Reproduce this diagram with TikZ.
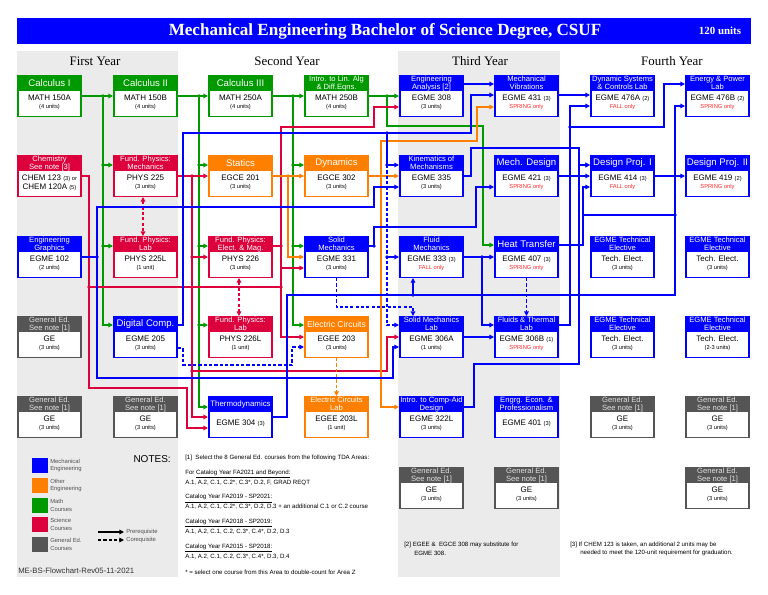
\documentclass[tikz,border=0pt]{standalone}
\usepackage{fontspec}
\setmainfont{Liberation Sans}
\newfontfamily\serifLS{Liberation Serif}
\usetikzlibrary{arrows.meta}
\definecolor{meblue}{RGB}{0,0,255}
\definecolor{oeorange}{RGB}{255,128,0}
\definecolor{mathgreen}{RGB}{0,153,0}
\definecolor{scired}{RGB}{220,0,60}
\definecolor{gegray}{RGB}{85,85,85}
\definecolor{gelight}{RGB}{225,225,225}
\definecolor{bggray}{RGB}{235,235,235}
\definecolor{termred}{RGB}{255,40,40}
\definecolor{legtxt}{RGB}{80,80,80}
\newcommand\tbig{\fontsize{7.2}{8}\selectfont}
\newcommand\tsmall{\fontsize{5.7}{5.9}\selectfont}
\newcommand\telec{\fontsize{6.4}{7}\selectfont}
\newcommand\tthermo{\fontsize{5.9}{6.5}\selectfont}
\newcommand\sm[1]{{\fontsize{4.3}{5}\selectfont #1}}
\newcommand\trm[1]{\textcolor{termred}{#1}}
\tikzset{
 cbox/.style={anchor=north west, minimum width=48.75pt, minimum height=31.5pt, inner sep=0pt, outer sep=0pt},
 ttl/.style={text=white, align=center, inner sep=0pt},
 ccode/.style={font=\fontsize{6}{7}\selectfont, inner sep=0pt},
 cunit/.style={font=\fontsize{4.3}{5}\selectfont, inner sep=0pt},
 con/.style={line width=0.8pt, -{Triangle[length=3.4pt,width=3.4pt]}},
 coreq/.style={con, dash pattern=on 2.4pt off 1.6pt},
 bicoreq/.style={line width=0.8pt, dash pattern=on 2.4pt off 1.6pt, {Triangle[length=3.4pt,width=3.4pt]}-{Triangle[length=3.4pt,width=3.4pt]}},
 wire/.style={line width=0.8pt},
 legtext/.style={font=\fontsize{4.4}{5.6}\selectfont, text=legtxt, align=left, inner sep=0pt, anchor=west},
 notetext/.style={font=\fontsize{4.6}{5.6}\selectfont, inner sep=0pt, anchor=west},
}
% name, x, y, color, titlefont, title, code, sub
\newcommand\course[8]{%
  \node[cbox, fill=#4] (#1) at (#2,#3) {};
  \fill[white] (#2+2,#3+16) rectangle (#2+63,#3+40.5);
  \node[ttl, font=#5] (#1-t) at (#2+32.5,#3+8.2) {#6};
  \node[ccode] (#1-c) at (#2+32.5,#3+22.8) {#7};
  \node[cunit] (#1-u) at (#2+32.5,#3+32) {#8};
}
\newcommand\coursei[7]{%
  \node[cbox, fill=#4] (#1) at (#2,#3) {};
  \fill[white] (#2+2,#3+16) rectangle (#2+63,#3+40.5);
  \node[ttl, font=#5] (#1-t) at (#2+32.5,#3+8.2) {#6};
  \node[ccode] (#1-c) at (#2+32.5,#3+27.5) {#7};
}
\newcommand\gebox[3]{%
  \node[cbox, fill=gegray] (#1) at (#2,#3) {};
  \fill[white] (#2+2,#3+16) rectangle (#2+63,#3+40.5);
  \node[ttl, text=gelight, font=\tsmall] (#1-t) at (#2+32.5,#3+8.2) {General Ed.\\See note [1]};
  \node[ccode] (#1-c) at (#2+32.5,#3+22.8) {GE};
  \node[cunit] (#1-u) at (#2+32.5,#3+32) {(3 units)};
}
\newcommand\jd[3]{\fill[#1] (#2,#3) circle[radius=1.4pt];}
\begin{document}
\begin{tikzpicture}[x=0.75pt,y=-0.75pt]
\useasboundingbox (0,0) rectangle (768,594);
\fill[white] (0,0) rectangle (768,594);
% backgrounds
\fill[bggray] (17,51) rectangle (178,577);
\fill[bggray] (398,51) rectangle (560,577);
% header
\fill[meblue] (17,18) rectangle (751,44);
\node[font=\serifLS\bfseries\fontsize{12.8}{14}\selectfont, text=white, inner sep=0pt] (title) at (385,31) {Mechanical Engineering Bachelor of Science Degree, CSUF};
\node[font=\serifLS\bfseries\fontsize{8.2}{9}\selectfont, text=white, inner sep=0pt] (units) at (720,31) {120 units};
% year labels
\node[font=\serifLS\fontsize{9.7}{11}\selectfont, inner sep=0pt] (y1) at (95,61) {First Year};
\node[font=\serifLS\fontsize{9.7}{11}\selectfont, inner sep=0pt] (y2) at (287,61) {Second Year};
\node[font=\serifLS\fontsize{9.7}{11}\selectfont, inner sep=0pt] (y3) at (480,61) {Third Year};
\node[font=\serifLS\fontsize{9.7}{11}\selectfont, inner sep=0pt] (y4) at (672,61) {Fourth Year};
% row 1
\course{math150a}{17}{75}{mathgreen}{\tbig}{Calculus I}{MATH 150A}{(4 units)}
\course{math150b}{113}{75}{mathgreen}{\tbig}{Calculus II}{MATH 150B}{(4 units)}
\course{math250a}{208}{75}{mathgreen}{\tbig}{Calculus III}{MATH 250A}{(4 units)}
\course{math250b}{304}{75}{mathgreen}{\tsmall}{Intro. to Lin. Alg\\\& Diff.Eqns.}{MATH 250B}{(4 units)}
\course{egme308}{399}{75}{meblue}{\tsmall}{Engineering\\Analysis [2]}{EGME 308}{(3 units)}
\course{egme431}{494}{75}{meblue}{\tsmall}{Mechanical\\Vibrations}{EGME 431 \sm{(3)}}{\trm{SPRING only}}
\course{egme476a}{590}{75}{meblue}{\tsmall}{Dynamic Systems\\\& Controls Lab}{EGME 476A \sm{(2)}}{\trm{FALL only}}
\course{egme476b}{685}{75}{meblue}{\tsmall}{Energy \& Power\\Lab}{EGME 476B \sm{(2)}}{\trm{SPRING only}}
% row 2
\course{chem}{17}{155}{scired}{\tsmall}{Chemistry\\See note [3]}{CHEM 123 \sm{(3) or}}{\fontsize{6}{7}\selectfont CHEM 120A \sm{(5)}}
\course{phys225}{113}{155}{scired}{\tsmall}{Fund. Physics:\\Mechanics}{PHYS 225}{(3 units)}
\course{egce201}{208}{155}{oeorange}{\tbig}{Statics}{EGCE 201}{(3 units)}
\course{egce302}{304}{155}{oeorange}{\tbig}{Dynamics}{EGCE 302}{(3 units)}
\course{egme335}{399}{155}{meblue}{\tsmall}{Kinematics of\\Mechanisms}{EGME 335}{(3 units)}
\course{egme421}{494}{155}{meblue}{\tbig}{Mech. Design}{EGME 421 \sm{(3)}}{\trm{SPRING only}}
\course{egme414}{590}{155}{meblue}{\tbig}{Design Proj. I}{EGME 414 \sm{(3)}}{\trm{FALL only}}
\course{egme419}{685}{155}{meblue}{\tbig}{Design Proj. II}{EGME 419 \sm{(2)}}{\trm{SPRING only}}
% row 3
\course{egme102}{17}{236}{meblue}{\tsmall}{Engineering\\Graphics}{EGME 102}{(2 units)}
\course{phys225l}{113}{236}{scired}{\tsmall}{Fund. Physics:\\Lab}{PHYS 225L}{(1 unit)}
\course{phys226}{208}{236}{scired}{\tsmall}{Fund. Physics:\\Elect. \& Mag.}{PHYS 226}{(3 units)}
\course{egme331}{304}{236}{meblue}{\tsmall}{Solid\\Mechanics}{EGME 331}{(3 units)}
\course{egme333}{399}{236}{meblue}{\tsmall}{Fluid\\Mechanics}{EGME 333 \sm{(3)}}{\trm{FALL only}}
\course{egme407}{494}{236}{meblue}{\tbig}{Heat Transfer}{EGME 407 \sm{(3)}}{\trm{SPRING only}}
\course{te1}{590}{236}{meblue}{\tsmall}{EGME Technical\\Elective}{Tech. Elect.}{(3 units)}
\course{te2}{685}{236}{meblue}{\tsmall}{EGME Technical\\Elective}{Tech. Elect.}{(3 units)}
% row 4
\gebox{ge1}{17}{316}
\course{egme205}{113}{316}{meblue}{\tbig}{Digital Comp.}{EGME 205}{(3 units)}
\course{phys226l}{208}{316}{scired}{\tsmall}{Fund. Physics:\\Lab}{PHYS 226L}{(1 unit)}
\course{egee203}{304}{316}{oeorange}{\telec}{Electric Circuits}{EGEE 203}{(3 units)}
\course{egme306a}{399}{316}{meblue}{\tsmall}{Solid Mechanics\\Lab}{EGME 306A}{(1 units)}
\course{egme306b}{494}{316}{meblue}{\tsmall}{Fluids \& Thermal\\Lab}{EGME 306B \sm{(1)}}{\trm{SPRING only}}
\course{te3}{590}{316}{meblue}{\tsmall}{EGME Technical\\Elective}{Tech. Elect.}{(3 units)}
\course{te4}{685}{316}{meblue}{\tsmall}{EGME Technical\\Elective}{Tech. Elect.}{(2-3 units)}
% row 5
\gebox{ge2}{17}{396}
\gebox{ge3}{113}{396}
\coursei{egme304}{208}{396}{meblue}{\tthermo}{Thermodynamics}{EGME 304 \sm{(3)}}
\course{egee203l}{304}{396}{oeorange}{\tsmall}{Electric Circuits\\Lab}{EGEE 203L}{(1 unit)}
\course{egme322l}{399}{396}{meblue}{\tsmall}{Intro. to Comp-Aid\\Design}{EGME 322L}{(3 units)}
\coursei{egme401}{494}{396}{meblue}{\tsmall}{Engrg. Econ. \&\\Professionalism}{EGME 401 \sm{(3)}}
\gebox{ge4}{590}{396}
\gebox{ge5}{685}{396}
% row 6
\gebox{ge6}{399}{467}
\gebox{ge7}{494}{467}
\gebox{ge8}{685}{467}
% ---------- green connectors
\begin{scope}[color=mathgreen]
\draw[con] (math150a.east |- 0,96) -- (math150b.west |- 0,96);
\draw[con] (103,96) |- (phys225.west |- 0,165);
\draw[con] (103,96) |- (phys225l.west |- 0,246);
\draw[con] (103,96) |- (egme205.west |- 0,325);
\jd{mathgreen}{103}{96}\jd{mathgreen}{103}{165}\jd{mathgreen}{103}{246}
\draw[con] (math150b.east |- 0,96) -- (math250a.west |- 0,96);
\draw[con] (199,96) |- (egce201.west |- 0,165);
\draw[con] (199,96) |- (phys226.west |- 0,246);
\draw[con] (199,96) |- (phys226l.west |- 0,325);
\draw[con] (199,96) |- (egme304.west |- 0,407);
\jd{mathgreen}{199}{96}\jd{mathgreen}{199}{165}\jd{mathgreen}{199}{246}\jd{mathgreen}{199}{325}
\draw[con] (math250a.east |- 0,96) -- (math250b.west |- 0,96);
\draw[con] (293,96) |- (egce302.west |- 0,165);
\draw[con] (293,96) |- (egme331.west |- 0,246);
\draw[con] (293,96) |- (egee203.west |- 0,325);
\jd{mathgreen}{293}{96}\jd{mathgreen}{293}{165}\jd{mathgreen}{293}{246}
\draw[con] (math250b.east |- 0,96) -- (egme308.west |- 0,96);
\draw[con] (387,96) -- (387,126) -- (483,126) |- (egme407.west |- 0,245);
\jd{mathgreen}{387}{96}
\end{scope}
% ---------- red connectors
\begin{scope}[color=scired]
\draw[con] (phys225.east |- 0,176) -- (egce201.west |- 0,176);
\draw[con] (192,176) |- (phys226.west |- 0,257);
\draw[con] (192,176) -- (192,371) -- (387,371) |- (egme306a.west |- 0,337);
\draw[con] (192,371) |- (egme304.west |- 0,417);
\jd{scired}{192}{176}\jd{scired}{192}{257}\jd{scired}{192}{371}
\draw[con] (chem.east |- 0,176) -- (89,176) -- (89,388) -- (187,388) |- (egme304.west |- 0,428);
\draw[wire] (89,287) -- (281,287);
\jd{scired}{89}{287}
\draw[con] (phys226.east |- 0,246) -- (281,246) -- (281,127) -- (374,127) |- (egme308.west |- 0,107);
\draw[con] (281,246) |- (egme331.west |- 0,268);
\draw[con] (281,246) |- (egee203.west |- 0,337);
\jd{scired}{281}{246}\jd{scired}{281}{287}
\draw[bicoreq] (phys225.south -| 143,0) -- (phys225l.north -| 143,0);
\draw[bicoreq] (phys226.south -| 239,0) -- (phys226l.north -| 239,0);
\end{scope}
% ---------- orange connectors
\begin{scope}[color=oeorange]
\draw[con] (egce201.east |- 0,176) -- (egce302.west |- 0,176);
\draw[con] (288,176) |- (egme331.west |- 0,257);
\jd{oeorange}{288}{176}
\draw[con] (egce302.east |- 0,176) -- (egme335.west |- 0,176);
\draw[con] (381,176) -- (381,141) -- (477,141) |- (egme431.west |- 0,107);
\draw[con] (381,176) |- (egme322l.west |- 0,407);
\jd{oeorange}{381}{176}
\draw[coreq] (egee203.south) -- (egee203l.north);
\end{scope}
% ---------- blue connectors
\begin{scope}[color=meblue]
\draw[wire] (egme102.east |- 0,257) -- (97,257);
\draw[con] (97,257) -- (97,207) -- (374,207) |- (egme335.west |- 0,187);
\draw[con] (97,257) -- (97,378) -- (393,378) |- (egme306a.west |- 0,347);
\jd{meblue}{97}{257}
\draw[con] (egme205.east |- 0,325) -- (183,325) -- (183,133) -- (471,133) |- (egme431.west |- 0,95);
\draw[con] (387,133) |- (egme335.west |- 0,165);
\draw[coreq] (387,165) |- (egme306a.west |- 0,325);
\draw[con] (387,257) -- (egme333.west |- 0,257);
\jd{meblue}{387}{133}\jd{meblue}{387}{165}\jd{meblue}{387}{257}
\draw[coreq] (egme205.east |- 0,348) -- (183,348) -- (183,365) -- (292,365) |- (egee203.west |- 0,347);
\draw[con] (egme308.east |- 0,84) -- (egme431.west |- 0,84);
\draw[con] (egme335.east |- 0,176) -- (471,176) -- (471,148) -- (579,148) |- (egme414.west |- 0,165);
\draw[con] (egme331.east |- 0,246) -- (374,246) -- (374,227) -- (476,227) |- (egme421.west |- 0,187);
\jd{meblue}{374}{246}
\draw[con] (egme333.east |- 0,257) -- (egme407.west |- 0,257);
\draw[con] (482,257) |- (egme306b.west |- 0,325);
\jd{meblue}{482}{257}
\draw[con] (egme306a.east |- 0,337) -- (egme306b.west |- 0,337);
\draw[con] (egme304.east |- 0,417) -- (287,417) -- (287,295) -- (675,295) |- (egme476b.west |- 0,106);
\draw[con] (413,295) -- (egme333.south -| 413,0);
\jd{meblue}{413}{295}
\draw[coreq] (egme331.south) |- (413,307) -- (egme306a.north -| 413,0);
\draw[coreq] (egme407.south) -- (egme306b.north);
\draw[con] (egme431.east |- 0,95) -- (egme476a.west |- 0,95);
\draw[con] (egme306b.east |- 0,325) -- (570,325) |- (egme476a.west |- 0,106);
\draw[con] (570,127) -- (664,127) |- (egme476b.west |- 0,84);
\jd{meblue}{570}{127}
\draw[con] (egme421.east |- 0,176) -- (egme414.west |- 0,176);
\draw[con] (egme414.east |- 0,176) -- (egme419.west |- 0,176);
\draw[con] (egme407.east |- 0,245) -- (583,245) |- (egme414.west |- 0,187);
\draw[wire] (583,215) -- (675,215);
\jd{meblue}{675}{215}
\draw[con] (egme322l.east |- 0,407) -- (474,407) -- (474,364) -- (579,364) |- (egme414.west |- 0,165);
\end{scope}
% ---------- legend
\foreach \c/\yy/\a/\b in {meblue/458/Mechanical/Engineering, oeorange/478/Other/Engineering, mathgreen/498/Math/Courses, scired/517/Science/Courses, gegray/537/General Ed./Courses}{
  \fill[\c] (32,\yy) rectangle (48,\yy+15);
  \node[legtext] (leg\yy) at (50,\yy+7.5) {\a\\\b};
}
\coordinate (pq1) at (98,532); \coordinate (pq2) at (124,532);
\coordinate (cq1) at (98,540); \coordinate (cq2) at (124,540);
\draw[con, black] (pq1) -- (pq2);
\draw[coreq, black] (cq1) -- (cq2);
\node[legtext] (lpre) at (126,531.5) {Prerequisite};
\node[legtext] (lco) at (126,540) {Corequisite};
\node[font=\fontsize{7.5}{9}\selectfont, inner sep=0pt, anchor=east] (notes) at (171,459) {NOTES:};
\node[font=\fontsize{5.8}{7}\selectfont, text=black!80, inner sep=0pt, anchor=west] (rev) at (18,571) {ME-BS-Flowchart-Rev05-11-2021};
% ---------- notes
\node[notetext] (n1) at (185,458) {[1]\ \ Select the 8 General Ed. courses from the following TDA Areas:};
\node[notetext] (n2) at (185,474) {For \underline{Catalog Year FA2021 and Beyond:}};
\node[notetext] (n3) at (185,482.5) {A.1, A.2, C.1, C.2*, C.3*, D.2, F, GRAD REQT};
\node[notetext] (n4) at (185,498.5) {\underline{Catalog Year FA2019 - SP2021:}};
\node[notetext] (n5) at (185,507) {A.1, A.2, C.1, C.2*, C.3*, D.2, D.3 + an additional C.1 or C.2 course};
\node[notetext] (n6) at (185,523) {\underline{Catalog Year FA2018 - SP2019:}};
\node[notetext] (n7) at (185,532) {A.1, A.2, C.1, C.2, C.3*, C.4*, D.2, D.3};
\node[notetext] (n8) at (185,548) {\underline{Catalog Year FA2015 - SP2018:}};
\node[notetext] (n9) at (185,556.5) {A.1, A.2, C.1, C.2, C.3*, C.4*, D.3, D.4};
\node[notetext] (n10) at (185,572) {* = select one course from this Area to double-count for Area Z};
\node[notetext] (n11) at (404,545) {[2] EGEE \&\ \ EGCE 308 may substitute for};
\node[notetext] (n12) at (414,553) {EGME 308.};
\node[notetext] (n13) at (570,545) {[3] If CHEM 123 is taken, an additional 2 units may be};
\node[notetext] (n14) at (580,553) {needed to meet the 120-unit requirement for graduation.};
\end{tikzpicture}
\end{document}
